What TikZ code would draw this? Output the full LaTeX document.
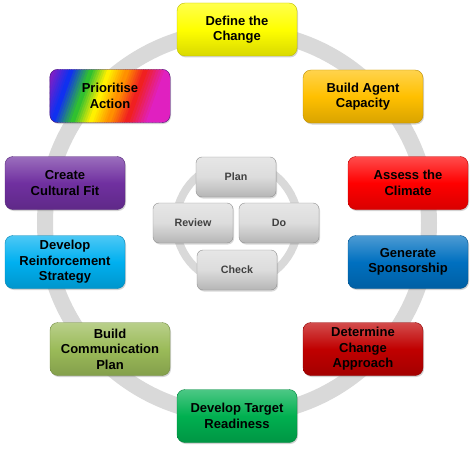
\documentclass[tikz,border=0pt]{standalone}
\usepackage{fontspec}
\setmainfont{Liberation Sans}
\usepackage{tikz}
\usetikzlibrary{positioning,shadows}
\definecolor{ringgray}{HTML}{D9D9D9}
\definecolor{cyellow}{HTML}{FFFF00}
\definecolor{cgold}{HTML}{FFC000}
\definecolor{cred}{HTML}{FF0000}
\definecolor{cblue}{HTML}{0070C0}
\definecolor{cdarkred}{HTML}{C00000}
\definecolor{cgreen}{HTML}{00B050}
\definecolor{colive}{HTML}{9BBB59}
\definecolor{ccyan}{HTML}{00B0F0}
\definecolor{cpurple}{HTML}{7030A0}
\definecolor{keytop}{HTML}{E6E6E6}
\definecolor{keybottom}{HTML}{B5B5B5}
\definecolor{keytext}{HTML}{404040}
\definecolor{rbviolet}{HTML}{7A1FC8}
\definecolor{rbblue}{HTML}{1030F0}
\definecolor{rbgreen}{HTML}{30C030}
\definecolor{rbyellow}{HTML}{FFF000}
\definecolor{rborange}{HTML}{FF9000}
\definecolor{rbred}{HTML}{F02020}
\definecolor{rbmagenta}{HTML}{E020C0}
\tikzset{
  steptext/.style={align=center, font=\bfseries\fontsize{13}{15.5}\selectfont},
  stepbox/.style={steptext, draw=#1!75!black, line width=0.4pt, rounded corners=8pt, minimum width=120pt, minimum height=53pt,
    top color=#1!70!white, bottom color=#1!85!black, middle color=#1,
    drop shadow={opacity=0.35, shadow xshift=1pt, shadow yshift=-1.5pt}},
  rainbowbox/.style={rounded corners=8pt, minimum width=120pt, minimum height=53pt, fill=white,
    drop shadow={opacity=0.35, shadow xshift=1pt, shadow yshift=-1.5pt}},
  keybox/.style={draw=keybottom!80!black, line width=0.4pt, rounded corners=6pt, minimum width=80pt, minimum height=40pt,
    font=\bfseries\fontsize{10.7}{12}\selectfont, text=keytext, top color=keytop, bottom color=keybottom, middle color=keytop!80!keybottom,
    drop shadow={opacity=0.3, shadow xshift=1pt, shadow yshift=-1.5pt}},
  bigring/.style={draw=ringgray, line width=16pt, circle, minimum size=384pt},
  smallring/.style={draw=ringgray, line width=8pt, circle, minimum size=122pt}
}

\begin{document}
\begin{tikzpicture}[x=1pt, y=-1pt]
  \useasboundingbox (0,0) rectangle (474,452);

  \node[bigring] (ring) at (237,223) {};
  \node[smallring] (cycle) at (237,223) {};

  \foreach \n/\x/\y/\c/\t in {define/237/29.5/cyellow/{Define the\\Change},
      agent/363/96.5/cgold/{Build Agent\\Capacity},
      climate/408/183/cred/{Assess the\\Climate},
      sponsor/408/262/cblue/{Generate\\Sponsorship},
      approach/363/349/cdarkred/{Determine\\Change\\Approach},
      target/237/416/cgreen/{Develop Target\\Readiness},
      comm/110/349/colive/{Build\\Communication\\Plan},
      reinforce/65/262/ccyan/{Develop\\Reinforcement\\Strategy},
      culture/65/183/cpurple/{Create\\Cultural Fit}} {
    \node[stepbox=\c] (\n) at (\x,\y) {\t};
  }

  % rainbow box: slanted stripes clipped to the box
  \node[rainbowbox] (prioritise) at (110,96) {};
  \begin{scope}
    \clip[rounded corners=8pt] (prioritise.north west) rectangle (prioritise.south east);
    \begin{scope}[shift={(prioritise.center)}]
      \foreach \ca/\cb/\ta/\tb in {rbviolet/rbviolet/-66/-56, rbviolet/rbblue/-56/-38, rbblue/rbgreen/-38/-18,
          rbgreen/rbyellow/-18/0, rbyellow/rborange/0/18, rborange/rbred/18/36, rbred/rbmagenta/36/58, rbmagenta/rbmagenta/58/86} {
        \foreach \k in {0,...,7} {
          \pgfmathtruncatemacro\p{100-\k*100/7}
          \pgfmathsetmacro\xa{\ta+(\tb-\ta)*\k/8}
          \pgfmathsetmacro\xb{\ta+(\tb-\ta)*(\k+1)/8+0.6}
          \fill[\ca!\p!\cb] (\xa-20,28) -- (\xb-20,28) -- (\xb,-28) -- (\xa,-28) -- cycle;
        }
      }
    \end{scope}
  \end{scope}
  \draw[rbviolet!60!black, line width=0.4pt, rounded corners=8pt] (prioritise.north west) rectangle (prioritise.south east);
  \node[steptext] (prioritise-text) at (prioritise.center) {Prioritise\\Action};

  \foreach \n/\x/\y/\t in {plan/236/177/Plan, review/193/223/Review, do/279/223/Do, check/237/270/Check} {
    \node[keybox] (\n) at (\x,\y) {\t};
  }
\end{tikzpicture}
\end{document}
